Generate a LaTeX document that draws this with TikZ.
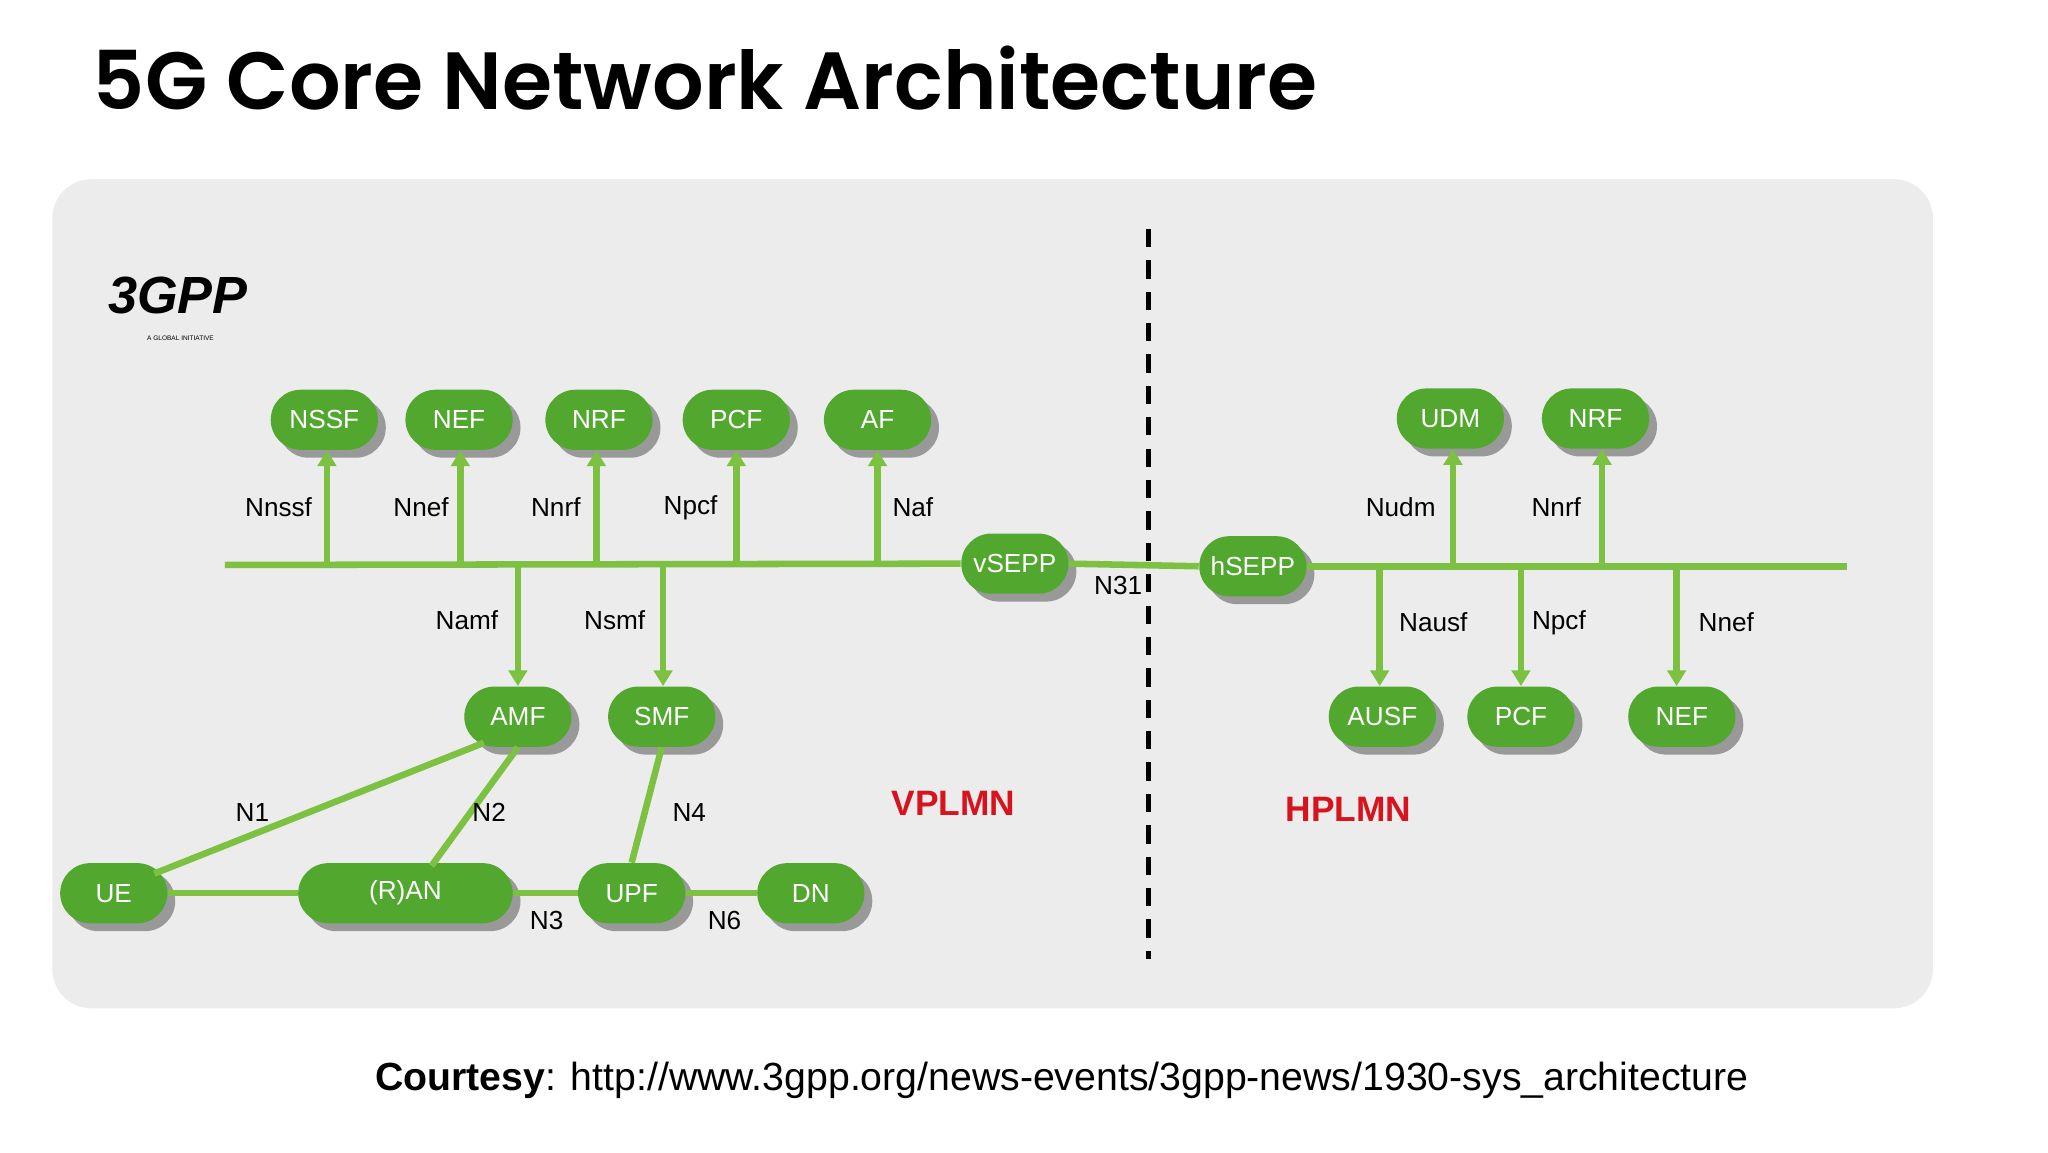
\documentclass[tikz,border=0pt]{standalone}
\usepackage{fontspec}
\setmainfont{Liberation Sans}
\newfontfamily\titlefont{Poppins SemiBold}
\usetikzlibrary{shadows,arrows.meta}
\definecolor{nfgreen}{HTML}{52A82E}
\definecolor{lgreen}{HTML}{7CC142}
\definecolor{panel}{HTML}{ECECEC}
\definecolor{lred}{HTML}{D7141E}
\begin{document}
\begin{tikzpicture}[x=0.5pt,y=-0.5pt,
  nf/.style={rounded corners=11.5pt,fill=nfgreen,text=white,font=\fontsize{10}{12}\selectfont,minimum width=41pt,minimum height=23pt,inner sep=1pt,
    drop shadow={shadow xshift=3pt,shadow yshift=-3pt,fill=black,opacity=0.35}},
  ln/.style={lgreen,line width=2.5pt},
  ar/.style={ln,-{Triangle[length=6pt,width=7pt]}},
  lb/.style={font=\fontsize{10}{12}\selectfont,text=black},
  reg/.style={font=\bfseries\fontsize{13.5}{15}\selectfont,text=lred}]
\useasboundingbox (0,0) rectangle (1566,881);
\fill[white] (0,0) rectangle (1566,881);
\node[anchor=west,font=\titlefont\fontsize{31}{36}\selectfont] (title) at (64,60) {5G Core Network Architecture};
\fill[panel,rounded corners=15pt] (40,137) rectangle (1478,771);
% logo
\node[font=\bfseries\itshape\fontsize{20}{22}\selectfont,inner sep=0] (logo) at (136,226) {3GPP};
\node[font=\fontsize{2.5}{3}\selectfont,inner sep=0] (logot) at (138,259) {A GLOBAL INITIATIVE};
% dashed separator
\coordinate (dtop) at (878,175); \coordinate (dbot) at (878,733);
\draw[black,line width=2pt,dash pattern=on 7pt off 5pt] (dtop) -- (dbot);
% nodes
\node[nf] (NSSF) at (248,321) {NSSF};
\node[nf] (NEF) at (351,321) {NEF};
\node[nf] (NRF) at (458,321) {NRF};
\node[nf] (PCF) at (563,321) {PCF};
\node[nf] (AF) at (671,321) {AF};
\node[nf] (vSEPP) at (776,431) {vSEPP};
\node[nf] (hSEPP) at (958,433) {hSEPP};
\node[nf] (AMF) at (396,548) {AMF};
\node[nf] (SMF) at (506,548) {SMF};
\node[nf] (UDM) at (1109,320) {UDM};
\node[nf] (NRF2) at (1220,320) {NRF};
\node[nf] (AUSF) at (1057,548) {AUSF};
\node[nf] (PCF2) at (1163,548) {PCF};
\node[nf] (NEF2) at (1286,548) {NEF};
\node[nf] (UE) at (87,683) {UE};
\node[nf,minimum width=82pt] (RAN) at (310,683) {(R)AN};
\node[nf] (UPF) at (483,683) {UPF};
\node[nf] (DN) at (620,683) {DN};
% buses
\coordinate (bl) at (172,432); \coordinate (br) at (1412,433);
\draw[ln] (bl) -- (vSEPP.west);
\draw[ln] (vSEPP.east) -- (hSEPP.west);
\draw[ln] (hSEPP.east) -- (br);
\foreach \x/\n in {250/NSSF,352/NEF,456/NRF,563/PCF,671/AF}{
  \coordinate (b\n) at (\x,432);
  \draw[ar] (b\n) -- (\n.south -| b\n);}
\foreach \x/\n in {1111/UDM,1225/NRF2}{
  \coordinate (b\n) at (\x,433);
  \draw[ar] (b\n) -- (\n.south -| b\n);}
\foreach \x/\n in {396/AMF,507/SMF}{
  \coordinate (b\n) at (\x,432);
  \draw[ar] (b\n) -- (\n.north -| b\n);}
\foreach \x/\n in {1055/AUSF,1163/PCF2,1282/NEF2}{
  \coordinate (b\n) at (\x,433);
  \draw[ar] (b\n) -- (\n.north -| b\n);}
\draw[ln] (UE) -- (RAN) (RAN) -- (UPF) (UPF) -- (DN);
\coordinate (ueN1) at (118,668);
\coordinate (amfN1) at (370,568);
\draw[ln] (ueN1) -- (amfN1);
\coordinate (ranN2) at (330,662);
\draw[ln] (ranN2) -- (AMF.south);
\draw[ln] (UPF.north) -- (SMF.south);
% labels
\foreach \p/\t in {{213,388}/Nnssf,{322,388}/Nnef,{425,388}/Nnrf,{528,388}/Npcf,{698,388}/Naf,
  {357,474}/Namf,{470,474}/Nsmf,{855,448}/N31,{1071,388}/Nudm,{1190,388}/Nnrf,
  {1096,476}/Nausf,{1192,476}/Npcf,{1320,476}/Nnef,{193,621}/N1,{374,621}/N2,{527,621}/N4,{418,704}/N3,{554,704}/N6}
  \node[lb] at (\p) {\t};
\node[reg] (vp) at (729,614) {VPLMN};
\node[reg] (hp) at (1031,619) {HPLMN};
\node[font=\fontsize{15}{17}\selectfont] (court) at (812,826) {\textbf{Courtesy}: http://www.3gpp.org/news-events/3gpp-news/1930-sys\_architecture};
\end{tikzpicture}
\end{document}
